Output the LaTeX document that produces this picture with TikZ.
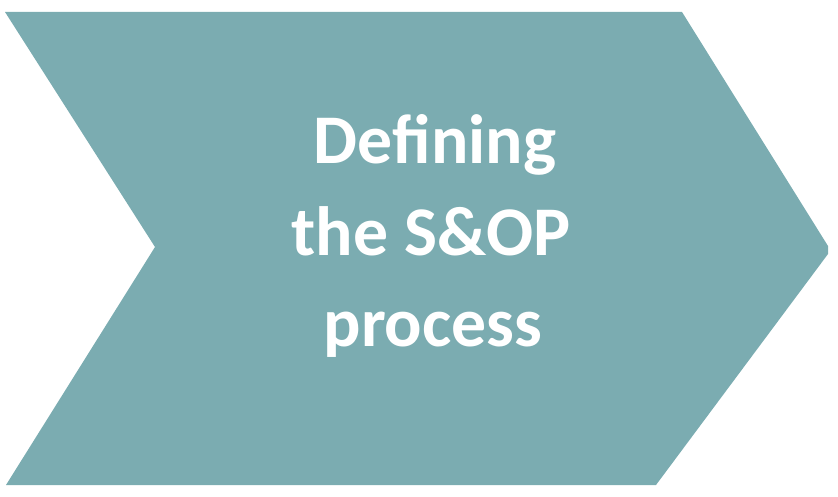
\documentclass[tikz,border=0pt]{standalone}
\usepackage{fontspec}
\setmainfont{Carlito}
\definecolor{chev}{RGB}{123,172,177}
\begin{document}
\begin{tikzpicture}[x=1bp,y=-1bp,
  lbl/.style={anchor=base,text=white,inner sep=0pt,font=\bfseries\fontsize{70}{90}\selectfont}]
\useasboundingbox (0,0) rectangle (838,497);
\fill[chev] (5,12) -- (682,12) -- (828,246) to[out=58,in=-52,looseness=0] (828,254) -- (656,485) -- (6,485) -- (155,247) -- cycle;
\node[lbl] (l1) at (435,164) {Defining};
\node[lbl] (l2) at (431,256) {the S\&OP};
\node[lbl] (l3) at (433,346) {process};
\end{tikzpicture}
\end{document}
